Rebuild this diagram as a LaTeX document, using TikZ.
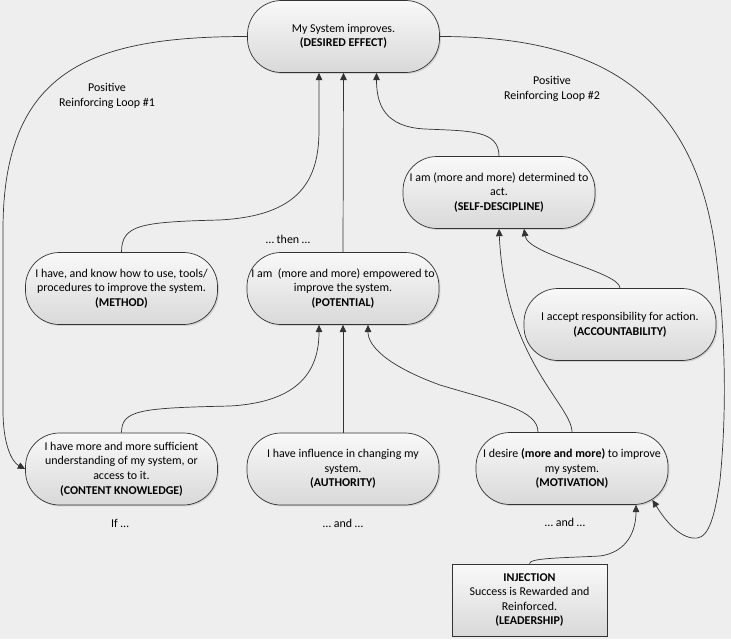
\documentclass[tikz,border=0pt]{standalone}
\usepackage{fontspec}
\setmainfont{Carlito}
\usetikzlibrary{calc}
\usetikzlibrary{arrows.meta}
\usetikzlibrary{shadows}
\definecolor{bgcol}{HTML}{EEEEEE}

\begin{document}
\begin{tikzpicture}[x=0.03cm, y=-0.03cm]
        % ================= styles =================
        \tikzset{
            % rounded boxes: grey shading with a small shadow
            pill/.style={draw=black!80, line width=0.6pt, rounded corners=1.02cm,
                minimum width=5.76cm, minimum height=2.16cm, inner sep=0pt, align=center,
                top color=gray!5, bottom color=gray!30,
                drop shadow={shadow xshift=1.2pt, shadow yshift=-1.2pt, opacity=0.25},
                font=\fontsize{10.2}{12.4}\selectfont},
            % square box for the injection
            inj_box/.style={pill, sharp corners, minimum width=4.65cm},
            % arrows between the boxes
            link/.style={line width=0.6pt, black!80, -{Triangle[length=2.2mm, width=2mm]}},
            % free texts
            note/.style={align=center, font=\fontsize{10.2}{12.4}\selectfont}
        }

        \useasboundingbox (0,0) rectangle (731,639);
        \fill[bgcol] (0,0) rectangle (731,639);

        % ================= boxes =================
        \node[pill] (desired) at (343.5,36.5) {My System improves.\\\textbf{(DESIRED EFFECT)}};
        \node[pill] (method) at (121.5,288.5) {I have, and know how to use, tools/\\procedures to improve the system.\\\textbf{(METHOD)}};
        \node[pill] (potential) at (343,288.5) {I am\ \ (more and more) empowered to\\improve the system.\\\textbf{(POTENTIAL)}};
        \node[pill] (selfdisc) at (499,192.5) {I am (more and more) determined to\\act.\\\textbf{(SELF-DESCIPLINE)}};
        \node[pill] (account) at (620,324.5) {I accept responsibility for action.\\\textbf{(ACCOUNTABILITY)}};
        \node[pill] (content) at (121.5,469) {I have more and more sufficient\\understanding of my system, or\\access to it.\\\textbf{(CONTENT KNOWLEDGE)}};
        \node[pill] (authority) at (343,469) {I have influence in changing my\\system.\\\textbf{(AUTHORITY)}};
        \node[pill] (motivation) at (572,468.5) {I desire \textbf{(more and more)} to improve\\my system.\\\textbf{(MOTIVATION)}};
        \node[inj_box] (injection) at (529.5,600) {\textbf{INJECTION}\\Success is Rewarded and\\Reinforced.\\\textbf{(LEADERSHIP)}};

        % ================= texts =================
        \node[note] (loop1) at (107,96) {Positive\\Reinforcing Loop \#1};
        \node[note] (loop2) at (552,89) {Positive\\Reinforcing Loop \#2};
        \node[note] (then) at (288,239) {… then …};
        \node[note] (if) at (120,523) {If …};
        \node[note] (and1) at (343,523) {… and …};
        \node[note] (and2) at (565,522) {… and …};

        % ================= arrows up to the desired effect =================
        \draw[link] (method.north) .. controls (121.5,225) and (140,222) .. (219,220)
            .. controls (300,216) and (319,180) .. (319,130) -- ($(desired.south)+(-24.5,0)$);
        \draw[link] (potential.north) -- (desired.south);
        \draw[link] (selfdisc.north) .. controls (499,130) and (470,131) .. (425,129)
            .. controls (385,127) and (376.5,105) .. ($(desired.south)+(33,0)$);
        \draw[link] (account.north) .. controls (620,272) and (528,255) .. ($(selfdisc.south)+(25,0)$);

        % ================= arrows up to the potential =================
        \draw[link] (content.north) .. controls (121.5,410) and (140,408) .. (230,406)
            .. controls (300,402) and (319,370) .. ($(potential.south)+(-24,0)$);
        \draw[link] (authority.north) -- (potential.south);
        \draw[link] ($(motivation.north)+(-34,0)$) .. controls (538,410) and (500,403) .. (440,385)
            .. controls (385,365) and (368,345) .. ($(potential.south)+(25,0)$);
        \draw[link] (motivation.north) .. controls (572,405) and (505,360) .. (selfdisc.south);
        \draw[link] (injection.north) .. controls (529.5,558) and (560,558) .. (600,556)
            .. controls (628,552) and (636,530) .. ($(motivation.south)+(64,0)$);

        % ================= the two loops =================
        \draw[link] (desired.west) .. controls (90,36.5) and (3,70) .. (3,230) -- (3,410)
            .. controls (3,445) and (12,462) .. (content.west);
        \draw[link] (desired.east) .. controls (590,36.5) and (695,85) .. (716,255)
            .. controls (724,320) and (728,400) .. (720,480)
            .. controls (713,530) and (705,540) .. (692,538)
            .. controls (675,535) and (662,515) .. ($(motivation.south east)+(-16,-5)$);

    \end{tikzpicture}
\end{document}
